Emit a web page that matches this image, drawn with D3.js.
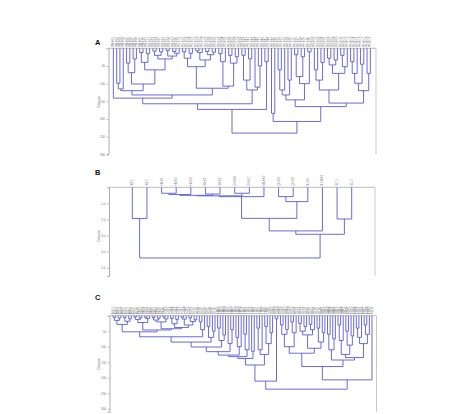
<!DOCTYPE html>
<html>
<head>
<meta charset="utf-8">
<script src="https://cdn.jsdelivr.net/npm/d3@7"></script>
<style>
body { margin: 0; background: #fff; }
text { font-family: "Liberation Sans", Arial, sans-serif; }
</style>
</head>
<body>
<div id="canvas"></div>
<script>
// trees: "(left,right)height", leaves are indexes into the label lists
const treeA = `((((0,((((1,2)99,3)115,(((4,5)42,(6,7)30)69,(((8,9)12,(10,11)15)40,(((12,13)8,(14,15)10)20,((16,17)6,((18,19)9,20)14)22)30)61)101)120,
((((21,22)10,(23,24)14)28,(((25,26)7,27)12,((28,29)9,(30,31)11)18)33)52,(((32,33)15,34)38,((35,36)20,(37,38)24)42)107)113)132)141,
(((39,40)20,(41,42)30)90,(43,(44,45)50)110)118)157,(46,47)38)173,
((48,49)184,(((((50,51)61,52)118,(53,54)90)132,(((55,56)18,(57,58)24)80,(59,60)10)100)146,
((((61,62)61,(63,64)40)90,(((65,66)28,(67,68)33)47,((69,70)20,71)52)71)118,((((72,73)38,74)71,(75,76)45)99,(77,78)71)120)155)165)207)240`;

const treeB = `((0,1)1.94,((((((((2,3)0.37,4)0.45,(5,6)0.42)0.5,(7,8)0.37)0.53,9)0.58,((10,11)0.58,12)0.89)1.93,13)2.71,(14,15)1.97)2.92)4.39`;

const treeC = `((((((((((((((0,1)5,(2,3)8)15,((4,5)6,(6,7)10)18)28,((((8,9)4,(10,11)7)12,((12,13)5,14)9)22,
((((15,16)6,(17,18)8)14,((19,20)4,21)10)20,(((22,23)9,(24,25)12)26,(((26,27)5,28)11,((29,30)7,(31,32)13)19)30)38)42)46)52,
((33,34)20,35)45)68,((36,37)35,(38,39)50)70)85,((40,41)40,(42,43)62)80)101,(44,(45,46)45)90)116,((47,48)70,49)100)127,
((50,51)60,52)110)132,(53,54)115)138,(((55,56)40,57)110,((58,59)35,(60,61)55)90)125)159,(62,63)10)211,
((((((64,65)30,(66,67)45)60,((68,69)20,70)55)100,((((71,72)25,(73,74)35)50,((75,76)28,77)45)62,((78,79)40,(80,81)55)85)105)121,
(((82,83)60,(84,85)75)110,((((86,87)30,88)80,((89,90)50,(91,92)65)95)125,(((93,94)40,95)70,((96,97)30,98)60)90)135)143)164,99)207)237`;

const labelsA = ("PA-001 PA-002 PA-003 PA-004 PA-005 PA-006 PA-007 PA-008 PA-009 PA-010 " +
  "PB-011 PB-012 PB-013 PB-014 PB-015 PB-016 PB-017 PB-018 PB-019 PB-020 " +
  "PC-021 PC-022 PC-023 PC-024 PC-025 PC-026 PC-027 PC-028 PC-029 PC-030 " +
  "PD-031 PD-032 PD-033 PD-034 PD-035 PD-036 PD-037 PD-038 PD-039 PD-040 " +
  "PE-041 PE-042 PE-043 PE-044 PE-045 PE-046 PE-047 PE-048 PE-049 PE-050 " +
  "PF-051 PF-052 PF-053 PF-054 PF-055 PF-056 PF-057 PF-058 PF-059 PF-060 " +
  "PG-061 PG-062 PG-063 PG-064 PG-065 PG-066 PG-067 PG-068 PG-069 PG-070 " +
  "PH-071 PH-072 PH-073 PH-074 PH-075 PH-076 PH-077 PH-078 PH-079").split(" ");

const labelsB = ["YZ-1", "YZ-2", "HB-01", "HB-02", "HB-03", "SX-01", "SX-02", "GS-001",
  "GS-02", "NX-002", "QH-01", "QH-02", "XJ-01", "XJ-0001", "SC-1", "SC-2"];

const labelsC = ("AL01 AL02 AL03 AL04 AL05 AL06 AL07 AL08 AL09 AL10 BK01 BK02 BK03 BK04 BK05 BK06 BK07 BK08 BK09 BK10 " +
  "CS01 CS02 CS03 CS04 CS05 CS06 CS07 CS08 CS09 CS10 DL01 DL02 DL03 DL04 DL05 DL06 DL07 DL08 DL09 DL10 " +
  "EM01 EM02 EM03 EM04 EM05 EM06 EM07 EM08 EM09 EM10 FN01 FN02 FN03 FN04 FN05 FN06 FN07 FN08 FN09 FN10 " +
  "GR01 GR02 GR03 GR04 GR05 GR06 GR07 GR08 GR09 GR10 HT01 HT02 HT03 HT04 HT05 HT06 HT07 HT08 HT09 HT10 " +
  "JW01 JW02 JW03 JW04 JW05 JW06 JW07 JW08 JW09 JW10 KQ01 KQ02 KQ03 KQ04 KQ05 KQ06 KQ07 KQ08 KQ09 KQ10").split(" ");

const ticksA = [50, 100, 150, 200, 250, 300];
const ticksB = [1, 2, 3, 4, 5];
const ticksC = [50, 100, 150, 200, 250, 300];

function parseTree(str) {
    const s = str.replace(/\s+/g, "");
    let p = 0;
    const num = () => {
        let t = "";
        while (p < s.length && /[0-9.]/.test(s[p])) t += s[p++];
        return +t;
    };
    const node = () => {
        if (s[p] === "(") {
            p++;
            const children = [node()];
            while (s[p] === ",") { p++; children.push(node()); }
            p++;
            return { h: num(), children };
        }
        return { leaf: num(), h: 0 };
    };
    return node();
}

const width = 474;
const height = 414;

const svg = d3.select("#canvas").append("svg")
    .attr("width", width)
    .attr("height", height);

const panels = [
    { tag: "A", tree: treeA, labels: labelsA, ticks: ticksA, top: 48.3, dmax: 300, bottom: 154.3,
      axisX: 108.5, right: 376, leafL: 111.7, leafR: 372, tagY: 45, titleY: 102 },
    { tag: "B", tree: treeB, labels: labelsB, ticks: ticksB, top: 187.3, dmax: 5.5, bottom: 275.8,
      axisX: 109, right: 375, leafL: 125, leafR: 359, tagY: 175, titleY: 236 },
    { tag: "C", tree: treeC, labels: labelsC, ticks: ticksC, top: 315.7, dmax: 310, bottom: 411.8,
      axisX: 109.5, right: 376.5, leafL: 111.7, leafR: 373.3, tagY: 300, titleY: 364 }
];

panels.forEach((P) => {
    const g = svg.append("g");
    const y = d3.scaleLinear().domain([0, P.dmax]).range([P.top, P.bottom]);

    // panel letter
    g.append("text")
        .attr("x", 95).attr("y", P.tagY)
        .attr("font-size", 7.5).attr("font-weight", "bold")
        .attr("fill", "#111")
        .text(P.tag);

    // frame
    g.append("line")
        .attr("x1", P.axisX).attr("x2", P.right)
        .attr("y1", P.top).attr("y2", P.top)
        .attr("stroke", "#aaa").attr("stroke-width", 0.8);
    g.append("line")
        .attr("x1", P.right).attr("x2", P.right)
        .attr("y1", P.top).attr("y2", P.bottom)
        .attr("stroke", "#bbb").attr("stroke-width", 0.8);

    const axis = g.append("g")
        .attr("transform", `translate(${P.axisX},0)`)
        .call(d3.axisLeft(y).tickValues(P.ticks).tickSize(2).tickPadding(1.5));
    axis.select(".domain").attr("stroke", "#999").attr("stroke-width", 0.8);
    axis.selectAll(".tick line").attr("stroke", "#999").attr("stroke-width", 0.6);
    axis.selectAll(".tick text").attr("font-size", 3).attr("fill", "#777")
        .attr("font-family", "Liberation Sans, Arial, sans-serif");

    g.append("text")
        .attr("transform", `translate(100,${P.titleY}) rotate(-90)`)
        .attr("text-anchor", "middle")
        .attr("font-size", 3).attr("fill", "#777")
        .text("Distance");

    // dendrogram
    const root = d3.hierarchy(parseTree(P.tree));
    d3.cluster().size([P.leafR - P.leafL, 1]).separation(() => 1)(root);
    const X = (d) => P.leafL + d.x;

    const dg = g.append("g")
        .attr("fill", "none")
        .attr("stroke", "#5a5ad4")
        .attr("stroke-width", 0.9);

    root.descendants().filter((d) => d.children).forEach((d) => {
        const xs = d.children.map(X);
        dg.append("line")
            .attr("x1", d3.min(xs)).attr("x2", d3.max(xs))
            .attr("y1", y(d.data.h)).attr("y2", y(d.data.h));
        d.children.forEach((c) => {
            dg.append("line")
                .attr("x1", X(c)).attr("x2", X(c))
                .attr("y1", y(c.data.h)).attr("y2", y(d.data.h));
        });
    });

    g.selectAll("text.leaf")
        .data(root.leaves())
        .enter().append("text")
        .attr("class", "leaf")
        .attr("transform", (d) => `translate(${X(d) + 1},${P.top - 1.5}) rotate(-90)`)
        .attr("font-size", 3)
        .attr("fill", "#777")
        .text((d) => P.labels[d.data.leaf]);
});
</script>
</body>
</html>
